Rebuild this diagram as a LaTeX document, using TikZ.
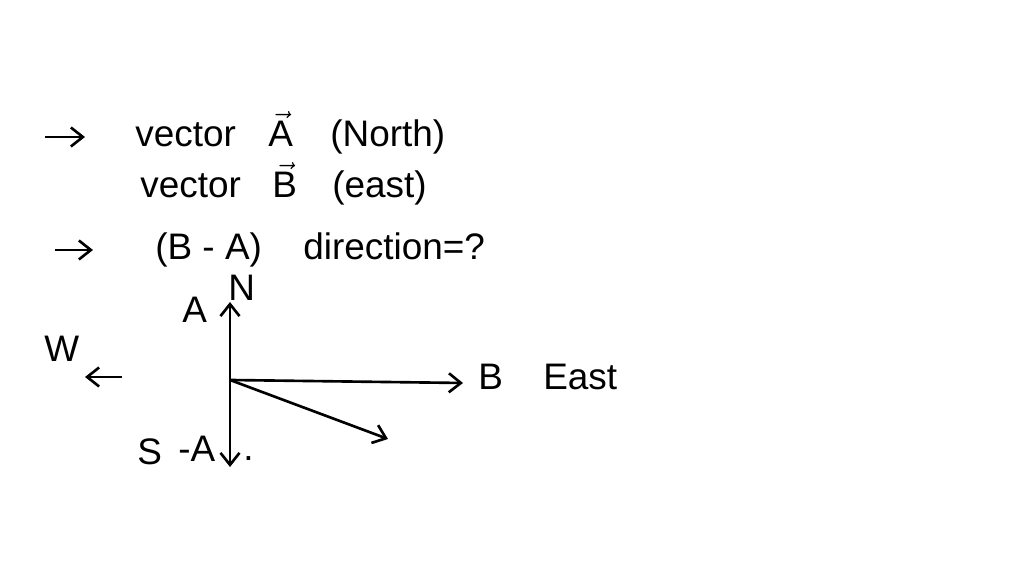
\documentclass[tikz,border=0pt]{standalone}
\usepackage{amsmath}
\usepackage{fontspec}
\setmainfont{Liberation Sans}
\usetikzlibrary{arrows.meta,positioning}

\tikzset{
    txt/.style={font=\fontsize{21}{24}\selectfont, inner sep=0pt, anchor=base west},
    vec/.style={line width=1.5pt, -{Straight Barb[length=2.4mm,width=3.8mm,line width=1.5pt]}},
}

\begin{document}
\begin{tikzpicture}
    \useasboundingbox (0,0) rectangle (20.48,11.52);

    % the question
    \coordinate (p1s) at (0.9,8.78);
    \coordinate (p1e) at (1.7,8.78);
    \draw[vec] (p1s) -- (p1e);
    \node[txt] (vecA) at (2.7,8.58) {vector};
    \node[txt] (symA) at (5.36,8.58) {$\vec{\text{A}}$};
    \node[txt] (north) at (6.6,8.58) {(North)};

    \node[txt] (vecB) at (2.8,7.56) {vector};
    \node[txt] (symB) at (5.44,7.56) {$\vec{\text{B}}$};
    \node[txt] (east) at (6.64,7.56) {(east)};

    \coordinate (p2s) at (1.1,6.52);
    \coordinate (p2e) at (1.86,6.52);
    \draw[vec] (p2s) -- (p2e);
    \node[txt] (diff) at (3.1,6.32) {(B - A)};
    \node[txt] (dir) at (6.06,6.32) {direction=?};

    % the sketch
    \coordinate (O) at (4.6,3.92);
    \coordinate (tipN) at (4.6,5.48);
    \coordinate (tipS) at (4.6,2.18);
    \coordinate (tipB) at (9.26,3.86);
    \coordinate (tipD) at (7.76,2.74);
    \coordinate (wS) at (2.44,3.98);
    \coordinate (wE) at (1.7,3.98);

    \draw[vec] (O) -- (tipN);
    \draw[vec] (O) -- (tipS);
    \draw[vec] (O) -- (tipB);
    \draw[vec] (O) -- (tipD);
    \draw[vec] (wS) -- (wE);

    \node[txt] (lN) at (4.56,5.5) {N};
    \node[txt] (lA) at (3.64,5.06) {A};
    \node[txt] (lS) at (2.74,2.22) {S};
    \node[txt] (lmA) at (3.56,2.28) {-A};
    \node[txt] (dot) at (4.86,2.3) {.};
    \node[txt] (lB) at (9.56,3.72) {B};
    \node[txt] (lEast) at (10.86,3.72) {East};
    \node[txt] (lW) at (0.88,4.28) {W};
\end{tikzpicture}
\end{document}
